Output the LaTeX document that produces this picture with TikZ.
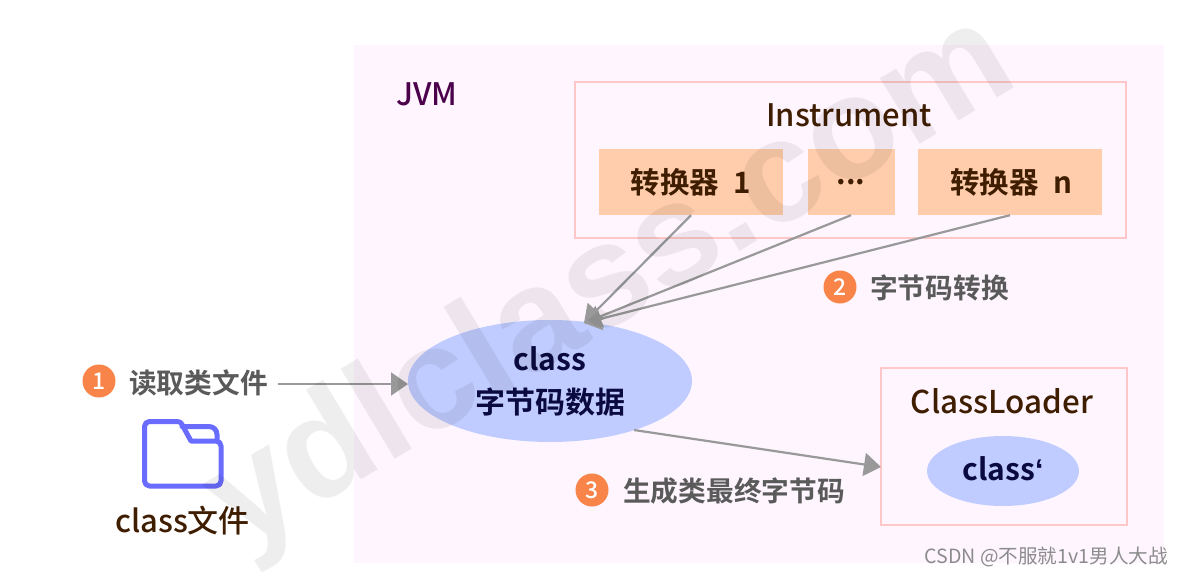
\documentclass[tikz,border=0pt]{standalone}
\usepackage{fontspec}
\usetikzlibrary{arrows.meta,shapes.geometric}
\setmainfont{Noto Sans CJK SC Medium}[BoldFont={Noto Sans CJK SC Bold}]
\newfontfamily\lightf{Noto Sans CJK SC}
\newfontfamily\latf{Liberation Sans}
\newfontfamily\wm{Liberation Sans}[BoldFont={Liberation Sans Bold}]
\definecolor{jvmbg}{HTML}{FEF5FF}
\definecolor{pinkline}{HTML}{FFC7C7}
\definecolor{peach}{HTML}{FFCDAB}
\definecolor{peri}{HTML}{C0CCFF}
\definecolor{brownt}{HTML}{3F1D00}
\definecolor{navyt}{HTML}{0A0A40}
\definecolor{greyt}{HTML}{5A5A5A}
\definecolor{orangec}{HTML}{F9844A}
\definecolor{arrowc}{HTML}{999999}
\definecolor{folder}{HTML}{6A6CFF}
\tikzset{
  frame/.style={draw=pinkline,line width=2.2pt,fill=none,inner sep=0pt},
  conv/.style={fill=peach,inner sep=0pt,text=brownt,font=\fontsize{29.5}{34}\selectfont\bfseries},
  blob/.style={ellipse,fill=peri,inner sep=0pt,text=navyt,font=\fontsize{30}{43}\selectfont\bfseries,align=center},
  flow/.style={draw=arrowc,line width=2.2pt,-{Triangle[length=17pt,width=23pt]}},
  badge/.style={circle,fill=orangec,minimum size=33pt,inner sep=0pt,text=white,font=\fontsize{23}{26}\selectfont},
  steptxt/.style={anchor=west,inner sep=0pt,text=greyt,font=\fontsize{27.7}{32}\selectfont\bfseries},
  title/.style={inner sep=0pt,text=brownt,font=\fontsize{31}{36}\selectfont},
}
\begin{document}
\begin{tikzpicture}[x=1pt,y=-1pt]
\useasboundingbox (0,0) rectangle (1184,578);
\fill[white] (0,0) rectangle (1184,578);
\fill[jvmbg] (354,45) rectangle (1164,563);
\node[inner sep=0pt,text=violet!60!black,font=\fontsize{31}{36}\selectfont] (jvm) at (427,94) {JVM};
\node[frame,minimum width=551pt,minimum height=156pt] (instr) at (850.5,160) {};
\node[title] (instrt) at (849,115) {Instrument};
\node[conv,minimum width=184pt,minimum height=66pt] (t1) at (691,182) {转换器\,\,\,1};
\node[conv,minimum width=87pt,minimum height=66pt] (t2) at (851,182) {...};
\node[conv,minimum width=184pt,minimum height=66pt] (t3) at (1010,182) {\hspace{3pt}转换器\,\,\,n};
\node[blob,minimum width=284pt,minimum height=122pt] (data) at (550,381) {\raisebox{2.5pt}{class}\\\raisebox{2.5pt}{字节码数据}};
\node[frame,minimum width=246pt,minimum height=157pt] (cl) at (1004,446.5) {};
\node[title,font=\fontsize{31.4}{36}\selectfont] (clt) at (1002,401) {ClassLoader};
\node[blob,minimum width=152pt,minimum height=70pt] (cp) at (1003,471) {\raisebox{4pt}{class{\latf ‘}}};
\node[badge] (b1) at (99,381) {1};
\node[steptxt] (s1) at (129,383) {读取类文件};
\node[badge] (b2) at (840,287) {2};
\node[steptxt] (s2) at (870,288) {字节码转换};
\node[badge] (b3) at (592,490) {3};
\node[steptxt] (s3) at (623,491) {生成类最终字节码};
\node[title] (ct) at (182.5,521) {class文件};
\coordinate (p1) at (278,384);
\coordinate (q1) at (408,384);
\coordinate (q2) at (584,323);
\coordinate (p3) at (634,430);
\coordinate (q3) at (881,467);
\draw[flow] (p1) -- (q1);
\draw[flow] (t1.south) -- (q2);
\draw[flow] (t2.south) -- (q2);
\draw[flow] (t3.south) -- (q2);
\draw[flow] (p3) -- (q3);
\draw[folder,line width=5pt,line join=round,fill=white]
  (144.5,426.5) arc[start angle=180,end angle=270,radius=5] -- (177,421.5)
  .. controls (180,421.5) and (181,422.5) .. (182,424.5) -- (191,441) -- (216,441)
  arc[start angle=-90,end angle=0,radius=5] -- (221,481)
  arc[start angle=0,end angle=90,radius=5] -- (149.5,486)
  arc[start angle=90,end angle=180,radius=5] -- cycle;
\draw[folder,line width=5pt,line join=round,line cap=round]
  (182,426.5) -- (209,426.5) arc[start angle=-90,end angle=0,radius=8] -- (217,441);
\node[inner sep=0pt,text=black,opacity=0.065,rotate=31,font=\wm\fontsize{145}{160}\selectfont\bfseries] (mark) at (612,285) {ydlclass.com};
\node[anchor=east,inner sep=0pt,text=black!45,font=\lightf\fontsize{19.6}{22}\selectfont] (csdn) at (1168,557) {CSDN @不服就1v1男人大战};
\end{tikzpicture}
\end{document}
